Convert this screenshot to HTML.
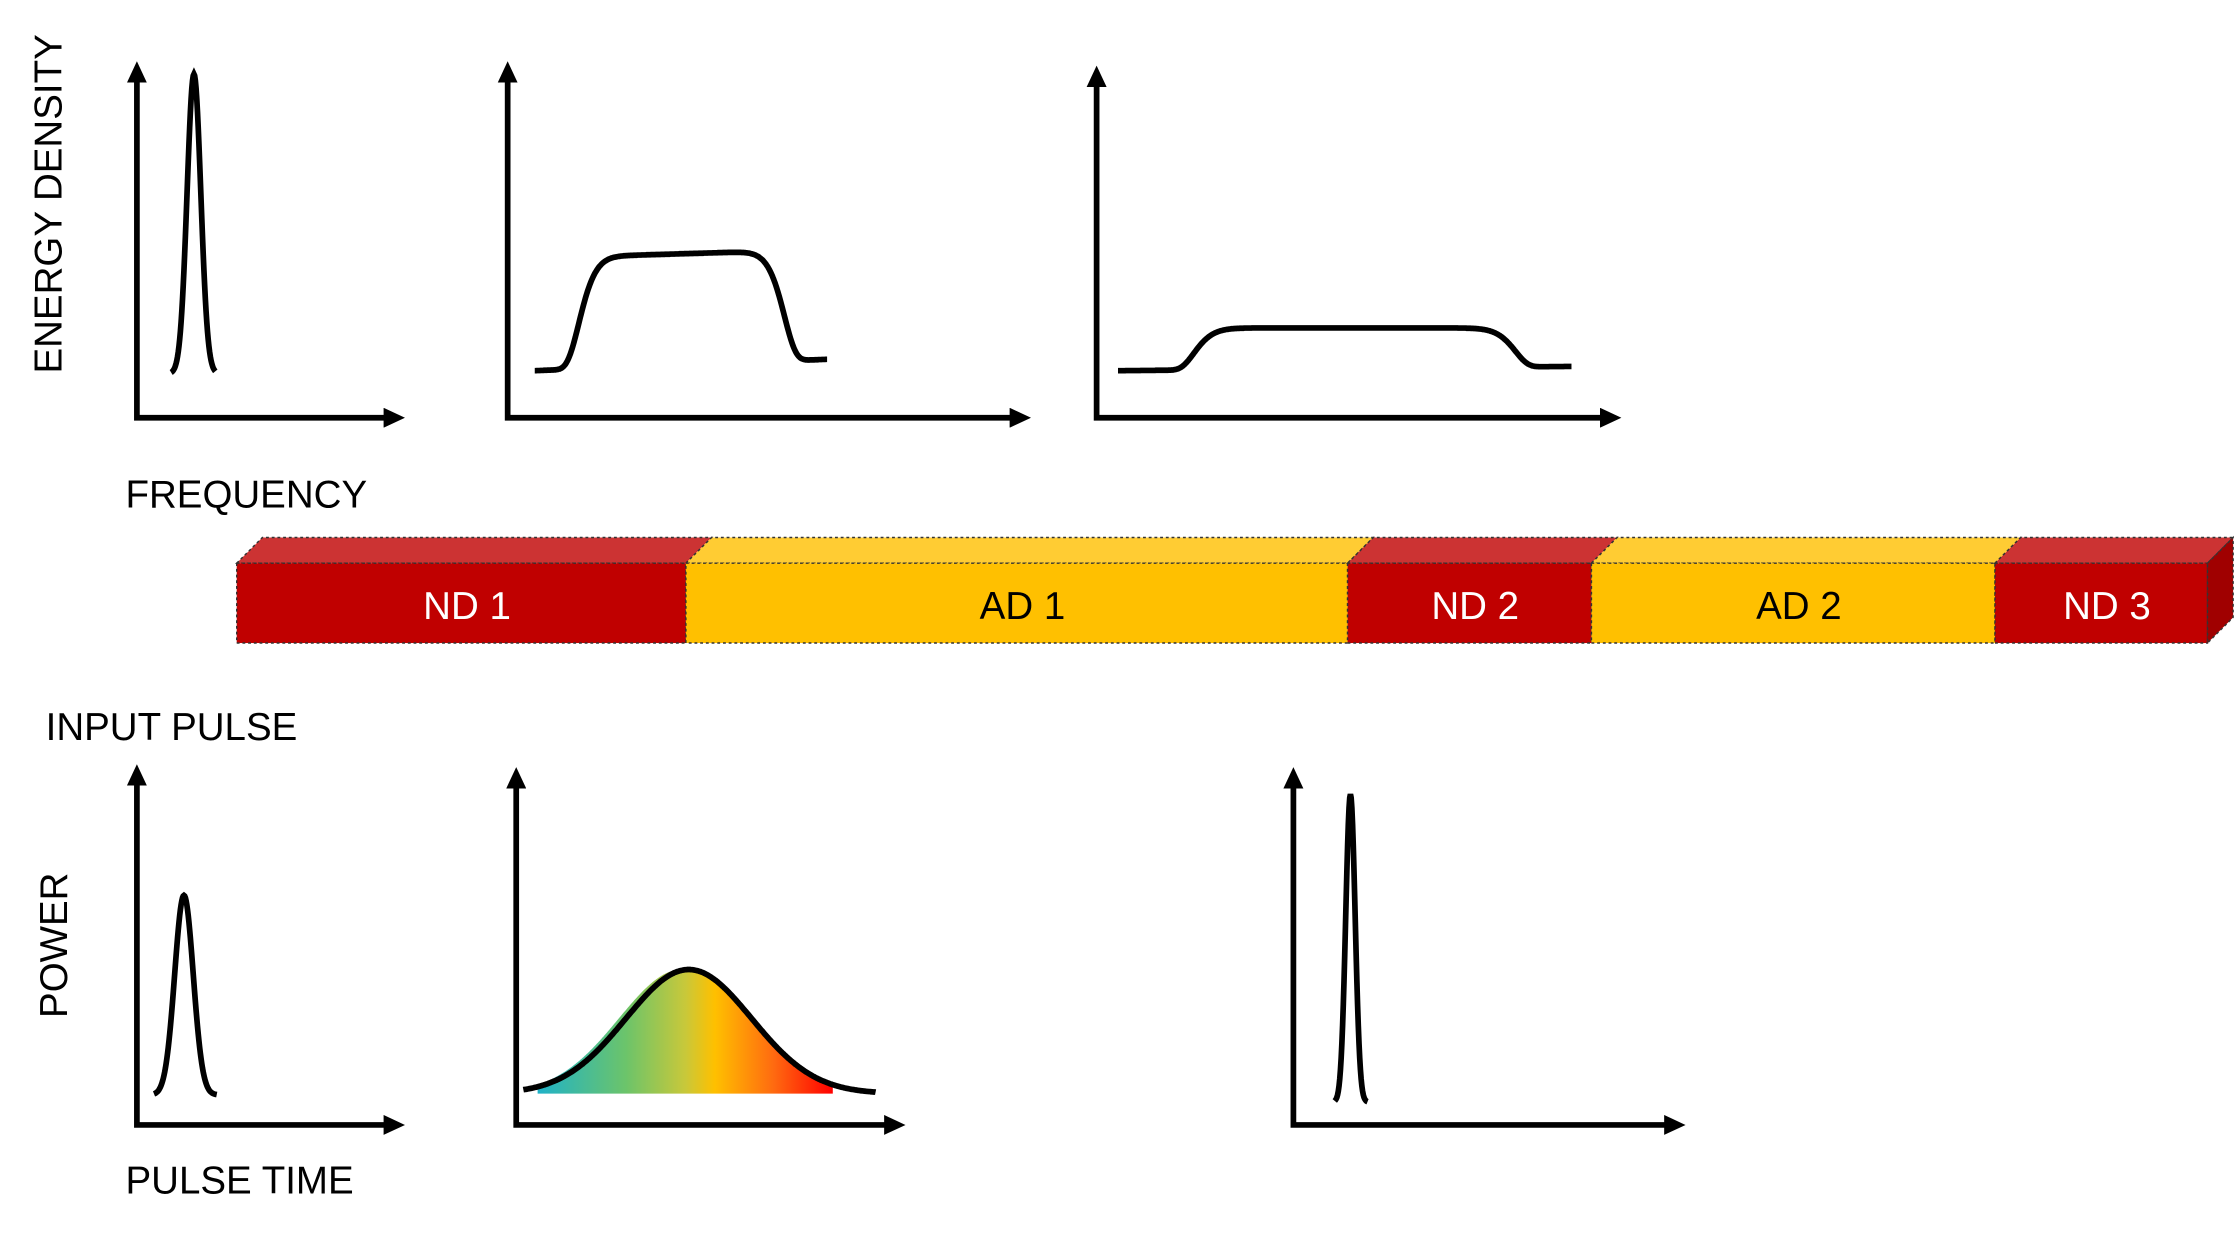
<!DOCTYPE html>
<html><head><meta charset="utf-8"><style>
html,body{margin:0;padding:0;background:#fff;}
svg{display:block;}
text{font-family:"Liberation Sans",sans-serif;}
</style></head><body>
<svg id="fig" width="2236" height="1239" viewBox="0 0 1568 869" preserveAspectRatio="none" xmlns="http://www.w3.org/2000/svg">
<defs>
<linearGradient id="rainbow" x1="0" x2="1" y1="0" y2="0">
<stop offset="0" stop-color="#1fb2c8"/><stop offset="0.3" stop-color="#6cc46a"/><stop offset="0.5" stop-color="#c8c83a"/><stop offset="0.6" stop-color="#ffc000"/><stop offset="0.8" stop-color="#ff6a10"/><stop offset="1" stop-color="#ff0000"/>
</linearGradient>
<marker id="arr" markerWidth="16" markerHeight="14" refX="4" refY="7" orient="auto-start-reverse" markerUnits="userSpaceOnUse"><path d="M0,0 L15,7 L0,14 Z" fill="#000"/></marker>
</defs>
<g id="axes"></g>
<g id="curves"></g>
<g id="bar"></g>
<text x="0" y="0" font-size="27" transform="translate(43,143) rotate(-90)" text-anchor="middle">ENERGY DENSITY</text>
<text x="88" y="356" font-size="27">FREQUENCY</text>
<text x="32" y="519" font-size="27">INPUT PULSE</text>
<text x="0" y="0" font-size="27" transform="translate(47,663) rotate(-90)" text-anchor="middle">POWER</text>
<text x="88" y="837" font-size="27">PULSE TIME</text>
</svg>
<script>
const NS="http://www.w3.org/2000/svg";
// axes: [originX, originY, topY, rightX]
const axesOrigins=[[96,293,42,285],[356,293,42,724],[769,293,45,1138],[96,789,535,285],[362,789,537,636],[907,789,537,1183]];
// segments of the dispersion bar
const segLabels=["ND 1","AD 1","ND 2","AD 2","ND 3"];
const segStarts=[166,481,945,1116,1399];
const segEnds=[481,945,1116,1399,1548];
const segTypes=["ND","AD","ND","AD","ND"];
// gaussian pulses (time domain)
const pulseCenters=[129,483,947];
const pulseSigmas=[6.5,44,3.3];
const pulseTops=[628,680,557];
const pulseBase=[768,767,773];
const pulseRanges=[[108,152],[367,614],[936,959]];
// spectra: super-gaussian shapes
const specCenters=[136,478,950];
const specHalfWidths=[4.8,68,108];
const specTops=[52,178,230];
const specBasesLeft=[262,260,260];
const specBasesRight=[262,252,257];
const specRanges=[[120,151],[375,580],[784,1102]];
const specOrders=[1,5,7];

const ax=document.getElementById('axes');
axesOrigins.forEach((a,i)=>{
  const p=document.createElementNS(NS,'path');
  p.setAttribute('d',`M${a[0]},${a[2]+12} L${a[0]},${a[1]} L${a[3]-12},${a[1]}`);
  p.setAttribute('fill','none');p.setAttribute('stroke','#000');p.setAttribute('stroke-width','4');
  p.setAttribute('marker-start','url(#arr)');p.setAttribute('marker-end','url(#arr)');
  
  
  ax.appendChild(p);
});
const cv=document.getElementById('curves');
function curve(f,r){let d='';for(let x=r[0];x<=r[1];x+=0.5){d+=(d?'L':'M')+x.toFixed(1)+','+f(x).toFixed(1)+' ';}return d;}
pulseCenters.forEach((c,i)=>{
  const f=x=>pulseBase[i]-(pulseBase[i]-pulseTops[i])*Math.exp(-Math.pow((x-c)/pulseSigmas[i],2)/2);
  const d=curve(f,pulseRanges[i]);
  if(i===1){
    const fl=x=>x<c?Math.min(f(x),f(x+5)):f(x);
    const a=pulseRanges[i][0]+10,b=pulseRanges[i][1]-30;
    const fill=document.createElementNS(NS,'path');
    fill.setAttribute('d',curve(fl,[a,b])+`L${b},${pulseBase[i]} L${a},${pulseBase[i]} Z`);
    fill.setAttribute('fill','url(#rainbow)');
    
    
    cv.appendChild(fill);
  }
  const p=document.createElementNS(NS,'path');
  p.setAttribute('d',d);p.setAttribute('fill','none');p.setAttribute('stroke','#000');p.setAttribute('stroke-width','4');
  
  
  cv.appendChild(p);
});
specCenters.forEach((c,i)=>{
  const n=specOrders[i];
  const r=specRanges[i];
  const f=x=>{const u=(x-c)/specHalfWidths[i];const g=Math.exp(-Math.pow(Math.abs(u),2*n)/2);
    const t=(x-r[0])/(r[1]-r[0]);const base=specBasesLeft[i]+(specBasesRight[i]-specBasesLeft[i])*t;
    const tilt=i===1?(x-c)*-0.03:0;return base-(base-specTops[i])*g+tilt*g;};
  const p=document.createElementNS(NS,'path');
  p.setAttribute('d',curve(f,r));p.setAttribute('fill','none');p.setAttribute('stroke','#000');p.setAttribute('stroke-width','4');
  
  
  cv.appendChild(p);
});
const bar=document.getElementById('bar');
const top0=395,bot=451,dx=18,dy=18;
segLabels.forEach((lab,i)=>{
  const nd=segTypes[i]==='ND';
  const g=document.createElementNS(NS,'g');
  
  
  const s=segStarts[i],e=segEnds[i];
  const tp=document.createElementNS(NS,'path');
  tp.setAttribute('d',`M${s},${top0} L${s+dx},${top0-dy} L${e+dx},${top0-dy} L${e},${top0} Z`);
  tp.setAttribute('fill',nd?'#cc3333':'#ffcc33');tp.setAttribute('stroke','#333');tp.setAttribute('stroke-width','1');tp.setAttribute('stroke-dasharray','2,2');
  g.appendChild(tp);
  const rc=document.createElementNS(NS,'rect');
  rc.setAttribute('x',s);rc.setAttribute('y',top0);rc.setAttribute('width',e-s);rc.setAttribute('height',bot-top0);
  rc.setAttribute('fill',nd?'#c00000':'#ffc000');rc.setAttribute('stroke','#333');rc.setAttribute('stroke-width','1');rc.setAttribute('stroke-dasharray','2,2');
  g.appendChild(rc);
  if(i===segLabels.length-1){
    const sd=document.createElementNS(NS,'path');
    sd.setAttribute('d',`M${e},${top0} L${e+dx},${top0-dy} L${e+dx},${bot-dy} L${e},${bot} Z`);
    sd.setAttribute('fill','#a00000');sd.setAttribute('stroke','#333');sd.setAttribute('stroke-width','1');sd.setAttribute('stroke-dasharray','2,2');
    g.appendChild(sd);
  }
  const t=document.createElementNS(NS,'text');
  t.setAttribute('x',(s+e)/2+4);t.setAttribute('y',434);t.setAttribute('text-anchor','middle');t.setAttribute('font-size','27');
  t.setAttribute('fill',nd?'#fff':'#000');t.textContent=lab;
  
  
  g.appendChild(t);
  bar.appendChild(g);
});
</script>
</body></html>
